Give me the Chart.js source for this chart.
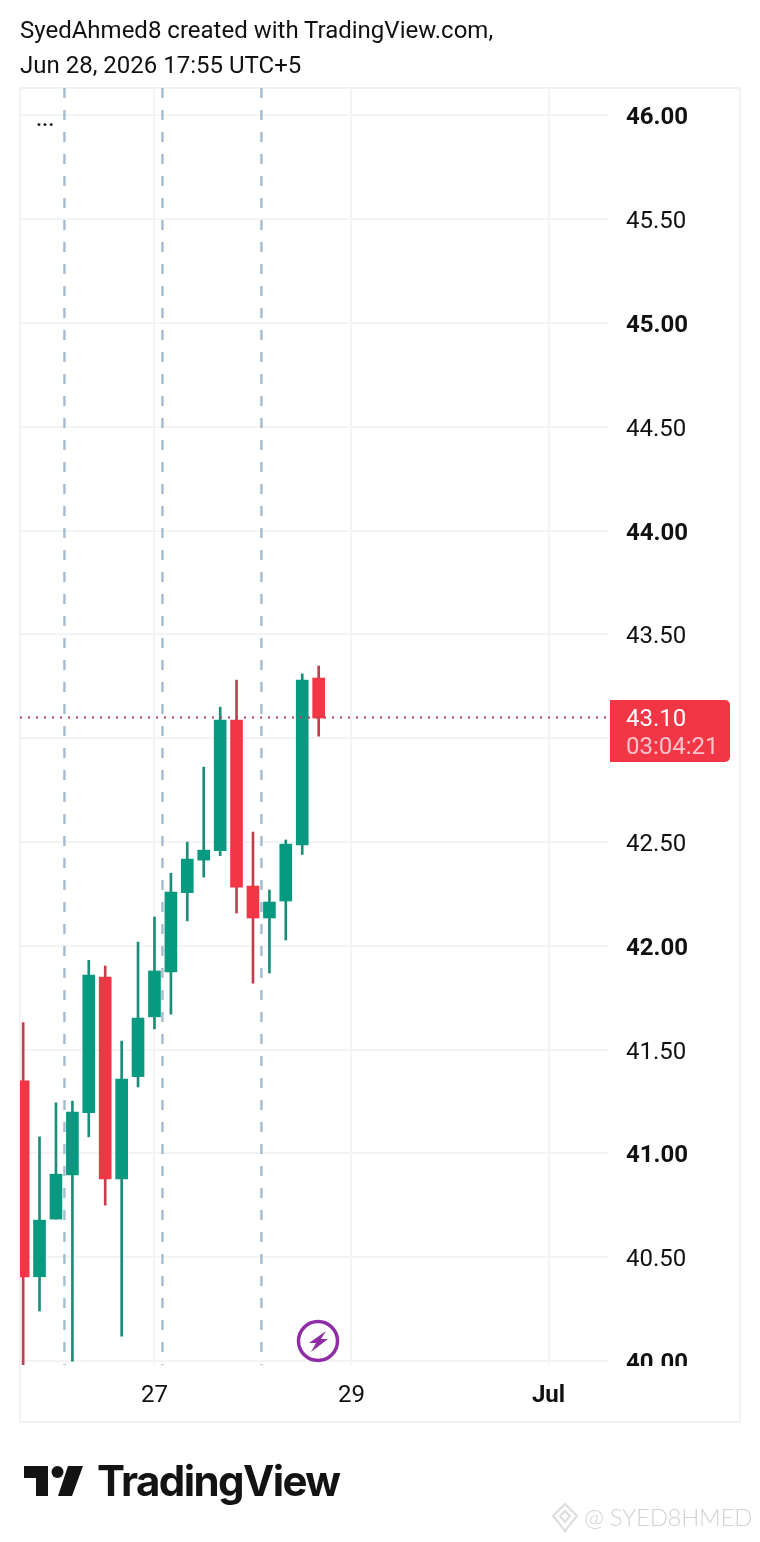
<!DOCTYPE html>
<html>
<head>
<meta charset="utf-8">
<title>TradingView chart</title>
<script src="https://cdn.jsdelivr.net/npm/chart.js@4"></script>
<style>
    html, body { margin: 0; padding: 0; background: #fff; }
    body { position: relative; width: 760px; height: 1542px; overflow: hidden; font-family: Roboto, sans-serif; color: #111; }
    canvas { position: absolute; left: 0; top: 0; }
    .abs { position: absolute; white-space: nowrap; }
    #frame { left: 19px; top: 87px; width: 718px; height: 1332px; border: 2px solid #f1f2f4; }
    #title { left: 20px; top: 13px; font-size: 24px; line-height: 35px; }
    #dots { left: 36px; top: 106px; font-size: 22px; line-height: 26px; font-weight: 500; }
    #priceBox { left: 610px; top: 700px; width: 120px; height: 62px; background: #f23645; border-radius: 0 5px 5px 0; }
    #priceValue { left: 16px; top: 3px; font-size: 24px; line-height: 30px; color: #fff; }
    #priceTimer { left: 16px; top: 31px; font-size: 24px; line-height: 30px; color: #fbc4ca; }
    #brand { left: 97px; top: 1455px; font-family: Inter, sans-serif; font-weight: 700; font-size: 42px; line-height: 52px; letter-spacing: -1.6px; color: #131313; }
    #mark { left: 0; top: 1440px; }
    #bolt { left: 296px; top: 1319px; }
    #watermark { left: 584px; top: 1502px; font-family: Lato, sans-serif; font-weight: 300; font-size: 24px; line-height: 30px; letter-spacing: -0.3px; color: #d2d2d2; }
    #wmIcon { left: 550px; top: 1502px; }
</style>
</head>
<body>
<div id="frame" class="abs"></div>
<canvas id="myChart" width="760" height="1542"></canvas>
<div id="title" class="abs">SyedAhmed8 created with TradingView.com,<br>Jun 28, 2026 17:55 UTC+5</div>
<div id="dots" class="abs">...</div>
<div id="priceBox" class="abs">
    <div id="priceValue" class="abs">43.10</div>
    <div id="priceTimer" class="abs">03:04:21</div>
</div>
<svg id="bolt" class="abs" width="44" height="44" viewBox="0 0 44 44">
    <circle cx="22" cy="22" r="19.5" fill="#fff" stroke="#8e2da6" stroke-width="3.5"/>
    <path d="M30 12 L13 24 L20 24 L15 33 L32 20 L25 20 Z" fill="#8e2da6"/>
</svg>
<svg id="mark" class="abs" width="96" height="70" viewBox="0 0 96 70">
    <path d="M24 26 H48 V56 H36 V38 H24 Z" fill="#131313"/>
    <circle cx="57.5" cy="32" r="6" fill="#131313"/>
    <path d="M68 26 H83 L72 56 H58 Z" fill="#131313"/>
</svg>
<div id="brand" class="abs">TradingView</div>
<svg id="wmIcon" class="abs" width="30" height="32" viewBox="0 0 30 32">
    <path d="M15 2 L22 9 L27 14 L22 20 L15 29 L8 20 L3 14 L8 9 Z M15 9 L20 14 L15 20 L10 14 Z" fill="none" stroke="#dcdcdc" stroke-width="2"/>
</svg>
<div id="watermark" class="abs">@ SYED8HMED</div>

<script>
// *************
// * Data      *
// *************
const candleDays = [25.667, 25.833, 26, 26.167, 26.333, 26.5, 26.667, 26.833, 27, 27.167, 27.333, 27.5, 27.667, 27.833, 28, 28.167, 28.333, 28.5, 28.667];
const opens  = [41.35, 40.406, 40.684, 40.897, 41.196, 41.85, 40.877, 41.37, 41.658, 41.874, 42.256, 42.413, 42.458, 43.088, 42.288, 42.134, 42.216, 42.486, 43.29];
const highs  = [41.63, 41.08, 41.244, 41.252, 41.93, 41.903, 41.541, 42.018, 42.139, 42.35, 42.5, 42.861, 43.15, 43.28, 42.548, 42.269, 42.51, 43.31, 43.348];
const lows   = [39.9, 40.241, 40.684, 40.0, 41.08, 40.751, 40.12, 41.32, 41.6, 41.671, 42.12, 42.331, 42.434, 42.158, 41.82, 41.869, 42.028, 42.44, 43.01];
const closes = [40.405, 40.679, 40.9, 41.199, 41.859, 40.877, 41.358, 41.652, 41.879, 42.259, 42.418, 42.461, 43.088, 42.283, 42.134, 42.211, 42.49, 43.28, 43.097];

const priceTicks = [40, 40.5, 41, 41.5, 42, 42.5, 43, 43.5, 44, 44.5, 45, 45.5, 46];
const dayTicks = [27, 29, 31];
const dayLabels = ['27', '29', 'Jul'];
const sessionBreaks = [26.086, 27.081, 28.086];
const lastPrice = 43.10;

const yMin = 39.981;
const yMax = 46.132;
const xMin = 25.635;
const xMax = 31.604;

// **********
// * Colors *
// **********
const upColor = '#089981';
const downColor = '#f23645';
const upWick = '#1b8d79';
const downWick = '#c23f50';
const gridColor = '#f3f4f6';

// ************
// * Datasets *
// ************
const wickData = candleDays.map((d, i) => ({ x: d, y: [lows[i], highs[i]] }));
const bodyData = candleDays.map((d, i) => ({ x: d, y: [opens[i], closes[i]] }));
const isUp = i => closes[i] >= opens[i];

const breakSets = sessionBreaks.map(d => ({
    type: 'line',
    data: [{ x: d, y: yMax }, { x: d, y: yMin }],
    borderColor: '#a5bbcf',
    borderWidth: 2.4,
    borderDash: [10, 12],
    pointRadius: 0,
    order: 3
}));

// price labels sit a bit lower than the canvas middle baseline puts them
const nudgePriceLabels = {
    id: 'nudgePriceLabels',
    afterUpdate(chart) {
        chart.scales.y.getLabelItems(chart.chartArea).forEach(item => {
            item.textOffset += 3;
        });
    }
};

// hides the part of the 40.00 label below the pane
const clipBottomLabel = {
    id: 'clipBottomLabel',
    afterDraw(chart) {
        const ctx = chart.ctx;
        ctx.save();
        ctx.fillStyle = '#fff';
        ctx.fillRect(chart.chartArea.right + 2, chart.chartArea.bottom + 1, 124, 24);
        ctx.restore();
    }
};

const config = {
    type: 'bar',
    data: {
        datasets: [
            ...breakSets,
            {
                data: wickData,
                backgroundColor: candleDays.map((d, i) => isUp(i) ? upWick : downWick),
                barThickness: 2,
                grouped: false,
                order: 2
            },
            {
                data: bodyData,
                backgroundColor: candleDays.map((d, i) => isUp(i) ? upColor : downColor),
                barThickness: 12,
                grouped: false,
                order: 1
            },
            {
                type: 'line',
                data: [{ x: xMin, y: lastPrice }, { x: xMax, y: lastPrice }],
                borderColor: '#bb3f5a',
                borderWidth: 2,
                borderDash: [2, 6],
                pointRadius: 0,
                order: 0
            }
        ]
    },
    options: {
        responsive: false,
        animation: false,
        devicePixelRatio: 1,
        layout: { padding: { left: 20, top: 88, right: 20, bottom: 120 } },
        plugins: { legend: { display: false }, tooltip: { enabled: false } },
        scales: {
            x: {
                type: 'linear',
                offset: false,
                min: xMin,
                max: xMax,
                afterBuildTicks: axis => { axis.ticks = dayTicks.map(v => ({ value: v })); },
                afterFit: axis => { axis.height = 57; },
                grid: { color: gridColor, lineWidth: 2, offset: false, drawTicks: false, tickLength: 0 },
                border: { display: false },
                ticks: {
                    autoSkip: false,
                    maxRotation: 0,
                    padding: 17,
                    color: '#111',
                    font: ctx => ({
                        family: 'Roboto',
                        size: 24,
                        weight: ctx.tick && ctx.tick.value === 31 ? '700' : '400'
                    }),
                    callback: v => dayLabels[dayTicks.indexOf(v)]
                }
            },
            y: {
                position: 'right',
                min: yMin,
                max: yMax,
                afterBuildTicks: axis => { axis.ticks = priceTicks.map(v => ({ value: v })); },
                afterFit: axis => { axis.width = 132; },
                grid: { color: gridColor, lineWidth: 2, drawTicks: false, tickLength: 0 },
                border: { display: false },
                ticks: {
                    crossAlign: 'near',
                    padding: 18,
                    color: '#111',
                    font: ctx => ({
                        family: 'Roboto',
                        size: 24,
                        weight: ctx.tick && Number.isInteger(ctx.tick.value) ? '700' : '400'
                    }),
                    // 43.00 sits under the price label
                    callback: v => v === 43 ? '' : v.toFixed(2)
                }
            }
        }
    },
    plugins: [nudgePriceLabels, clipBottomLabel]
};

new Chart(document.getElementById('myChart').getContext('2d'), config);
</script>
</body>
</html>
